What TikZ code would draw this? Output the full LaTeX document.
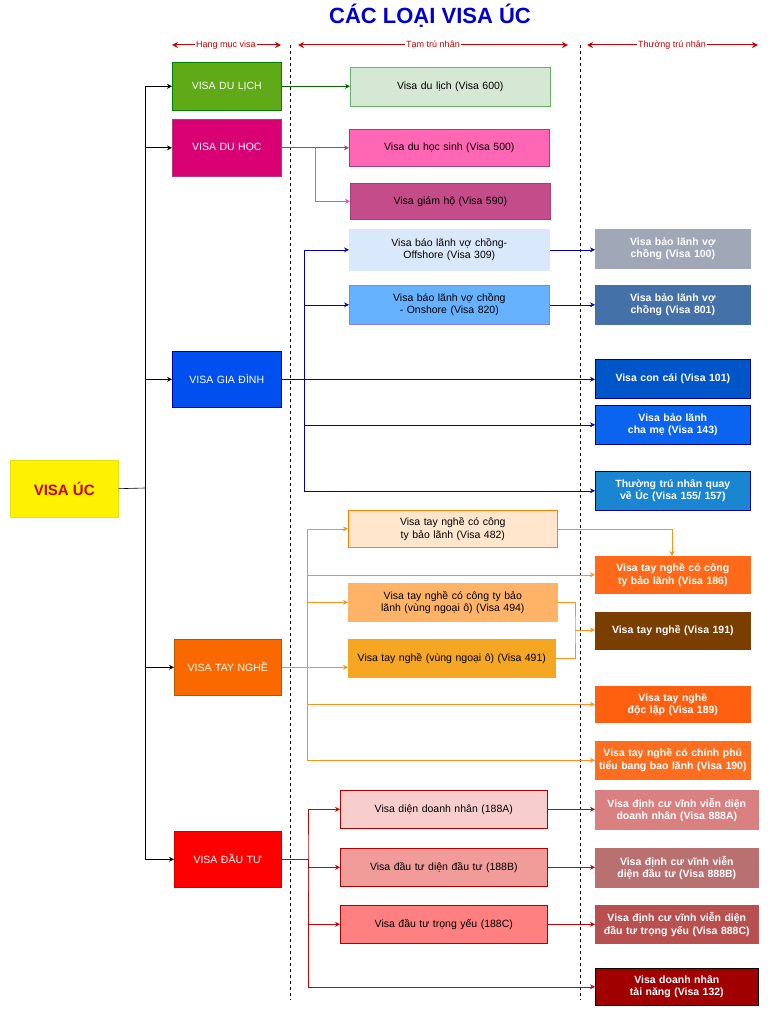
\documentclass[tikz,border=0pt]{standalone}
\usepackage{fontspec}
\setmainfont{Liberation Sans}
\usetikzlibrary{arrows.meta}
\begin{document}
\begin{tikzpicture}[x=1pt,y=-1pt,
 bx/.style={draw=#1,line width=0.6pt,align=center,font=\fontsize{10.5}{12.5}\selectfont,inner sep=1pt},
 ar/.style={draw=#1,-{Stealth[length=5pt,width=5pt]},line width=0.6pt},
 hd/.style={draw=red!80!black,line width=1pt,{Stealth[length=6pt,width=6pt]}-{Stealth[length=6pt,width=6pt]}},
 hl/.style={fill=white,inner sep=1pt,text=red!80!black,font=\fontsize{9}{10}\selectfont}]
\useasboundingbox (0,0) rectangle (768,1024);
\def\B#1#2#3#4#5#6#7#8#9{\pgfmathsetmacro\bw{#3-#1}\pgfmathsetmacro\bh{#4-#2}\pgfmathsetmacro\tw{#3-#1-4}%
\node[bx=#6,fill=#7,text=#8,minimum width=\bw pt,minimum height=\bh pt,text width=\tw pt,anchor=north west] (#5) at (#1,#2) {#9};}
\definecolor{ttl}{HTML}{0000CC}
\node[font=\bfseries\fontsize{22}{24}\selectfont,text=ttl] (title) at (430,16) {CÁC LOẠI VISA ÚC};
% headers
\coordinate (h1a) at (172,45);\coordinate (h1b) at (281,45);
\coordinate (h2a) at (298,45);\coordinate (h2b) at (568,45);
\coordinate (h3a) at (587,45);\coordinate (h3b) at (758,45);
\draw[hd] (h1a)--(h1b);\draw[hd] (h2a)--(h2b);\draw[hd] (h3a)--(h3b);
\node[hl] (l1) at (226,45) {Hạng mục visa};
\node[hl] (l2) at (433,45) {Tạm trú nhân};
\node[hl] (l3) at (672,45) {Thường trú nhân};
\coordinate (d1a) at (290,45);\coordinate (d1b) at (290,1000);
\coordinate (d2a) at (580,45);\coordinate (d2b) at (580,1000);
\draw[dashed,line width=0.6pt] (d1a)--(d1b);\draw[dashed,line width=0.6pt] (d2a)--(d2b);
% root
\node[draw=yellow!90!black,fill=yellow,text=red!80!black,font=\bfseries\fontsize{15}{17}\selectfont,minimum width=108,minimum height=57,anchor=north west] (uc) at (10,460) {VISA ÚC};
% categories
\definecolor{g1}{HTML}{60A917}\definecolor{m1}{HTML}{D80073}\definecolor{b1}{HTML}{0050EF}\definecolor{o1}{HTML}{FA6800}\definecolor{r1}{HTML}{FF0000}
\B{172}{62}{281}{110}{dl}{green!50!black}{g1}{white}{VISA DU LỊCH}
\B{172}{119}{281}{176}{dh}{magenta!70!black}{m1}{white}{VISA DU HỌC}
\B{172}{351}{281}{407}{gd}{blue!70!black}{b1}{white}{VISA GIA ĐÌNH}
\B{174}{639}{281}{695}{tn}{orange!70!black}{o1}{white}{VISA TAY NGHỀ}
\B{174}{831}{281}{887}{dt}{red!80!black}{r1}{white}{VISA ĐẦU TƯ}
% spine
\coordinate (sp) at (145,488);
\draw[line width=0.6pt] (uc.east)--(sp);
\foreach \n in {dl,dh,gd,tn,dt}{\draw[ar=black] (sp) |- (\n.west);}
% temp
\definecolor{c600}{HTML}{D5E8D4}\definecolor{c500}{HTML}{FF66B3}\definecolor{c590}{HTML}{C54C8A}
\definecolor{c309}{HTML}{DAE8FC}\definecolor{c820}{HTML}{66B2FF}
\definecolor{c482}{HTML}{FFE6CC}\definecolor{c494}{HTML}{FFB366}\definecolor{c491}{HTML}{F5A623}
\definecolor{cA}{HTML}{F8CECC}\definecolor{cB}{HTML}{F19C99}\definecolor{cC}{HTML}{FF8080}
\B{350}{67}{550}{106}{v600}{green!50!black!60}{c600}{black}{Visa du lịch (Visa 600)}
\B{349}{129}{549}{166}{v500}{magenta!60!black}{c500}{black}{Visa du học sinh (Visa 500)}
\B{350}{183}{550}{219}{v590}{magenta!60!black}{c590}{black}{Visa giám hộ (Visa 590)}
\B{349}{229}{549}{270}{v309}{c309}{c309}{black}{Visa báo lãnh vợ chồng- Offshore (Visa 309)}
\B{349}{285}{549}{324}{v820}{blue!50}{c820}{black}{Visa báo lãnh vợ chồng - Onshore (Visa 820)}
\B{348}{510}{557}{547}{v482}{orange}{c482}{black}{Visa tay nghề có công ty bảo lãnh (Visa 482)}
\B{348}{583}{557}{621}{v494}{c494}{c494}{black}{Visa tay nghề có công ty bảo lãnh (vùng ngoại ô) (Visa 494)}
\B{348}{639}{555}{677}{v491}{c491}{c491}{black}{Visa tay nghề (vùng ngoại ô) (Visa 491)}
\B{340}{790}{547}{828}{vA}{red!70!black}{cA}{black}{Visa diện doanh nhân (188A)}
\B{340}{848}{547}{886}{vB}{red!70!black}{cB}{black}{Visa đầu tư diện đầu tư (188B)}
\B{340}{905}{547}{943}{vC}{red!70!black}{cC}{black}{Visa đầu tư  trọng yếu (188C)}
% permanent
\definecolor{p100}{HTML}{A0A8B8}\definecolor{p801}{HTML}{4472A8}\definecolor{p101}{HTML}{0056C8}
\definecolor{p143}{HTML}{0A64F0}\definecolor{p155}{HTML}{1A85D0}\definecolor{p186}{HTML}{FF6A1A}
\definecolor{p191}{HTML}{7A3E00}\definecolor{p189}{HTML}{FF6010}\definecolor{p190}{HTML}{FF6E1F}
\definecolor{pA}{HTML}{D98080}\definecolor{pB}{HTML}{B97070}\definecolor{pC}{HTML}{B85050}\definecolor{p132}{HTML}{A00000}
\B{595}{229}{750}{268}{w100}{p100}{p100}{white}{\bfseries Visa bảo lãnh vợ chồng (Visa 100)}
\B{595}{285}{750}{324}{w801}{p801}{p801}{white}{\bfseries Visa bảo lãnh vợ chồng (Visa 801)}
\B{595}{359}{750}{398}{w101}{blue!60!black}{p101}{white}{\bfseries Visa con cái (Visa 101)}
\B{595}{405}{750}{444}{w143}{blue!60!black}{p143}{white}{\bfseries Visa bảo lãnh cha mẹ (Visa 143)}
\B{595}{471}{750}{510}{w155}{blue!60!black}{p155}{white}{\bfseries Thường trú nhân quay về Úc (Visa 155/ 157)}
\B{595}{556}{750}{593}{w186}{p186}{p186}{white}{\bfseries Visa tay nghề có công ty bảo lãnh (Visa 186)}
\B{595}{612}{750}{649}{w191}{p191}{p191}{white}{\bfseries Visa tay nghề (Visa 191)}
\B{595}{686}{750}{722}{w189}{p189}{p189}{white}{\bfseries Visa tay nghề độc lập (Visa 189)}
\B{595}{741}{750}{779}{w190}{p190}{p190}{white}{\bfseries Visa tay nghề có chính phủ tiểu bang bao lãnh (Visa 190)}
\B{595}{790}{758}{829}{wA}{pA}{pA}{white}{\bfseries Visa định cư vĩnh viễn diện doanh nhân (Visa 888A)}
\B{595}{848}{758}{887}{wB}{pB}{pB}{white}{\bfseries Visa định cư vĩnh viễn diện đầu tư  (Visa 888B)}
\B{595}{905}{758}{943}{wC}{pC}{pC}{white}{\bfseries Visa định cư vĩnh viễn diện đầu tư trọng yếu (Visa 888C)}
\B{595}{968}{758}{1005}{w132}{black}{p132}{white}{\bfseries Visa doanh nhân tài năng (Visa 132)}
% connectors
\draw[ar=green!40!black] (dl.east)--(dl.east-|v600.west);
\draw[ar=magenta!60!black] (dh.east)--(dh.east-|v500.west);
\coordinate (jh) at (315,147);
\draw[ar=magenta!70] (jh) |- (v590.west);
\definecolor{bl}{HTML}{0000B0}
\draw[ar=bl] (gd.east)--(gd.east-|w101.west);
\coordinate (jg) at (304,378);
\foreach \n in {v309,v820,w143,w155}{\draw[ar=bl] (jg) |- (\n.west);}
\draw[ar=bl] (v309.east)--(v309.east-|w100.west);
\draw[ar=bl] (v820.east)--(v820.east-|w801.west);
\definecolor{or}{HTML}{F7931E}
\draw[ar=or] (tn.east)--(tn.east-|v491.west);
\coordinate (jt) at (307,667);
\foreach \n in {v482,w186,v494,w189,w190}{\draw[ar=or] (jt) |- (\n.west);}
\draw[ar=or] (v482.east) -| (672,556);
\coordinate (jm) at (575,630);
\draw[or,line width=0.6pt] (v494.east) -| (jm) |- (v491.east);
\draw[ar=or] (jm)--(jm-|w191.west);
\definecolor{rd}{HTML}{CC0000}
\coordinate (jd) at (308,859);
\foreach \n in {vA,vB,vC,w132}{\draw[ar=rd] (dt.east) -| (jd) |- (\n.west);}
\draw[ar=rd] (vA.east)--(vA.east-|wA.west);
\draw[ar=rd] (vB.east)--(vB.east-|wB.west);
\draw[ar=rd] (vC.east)--(vC.east-|wC.west);
\end{tikzpicture}
\end{document}
